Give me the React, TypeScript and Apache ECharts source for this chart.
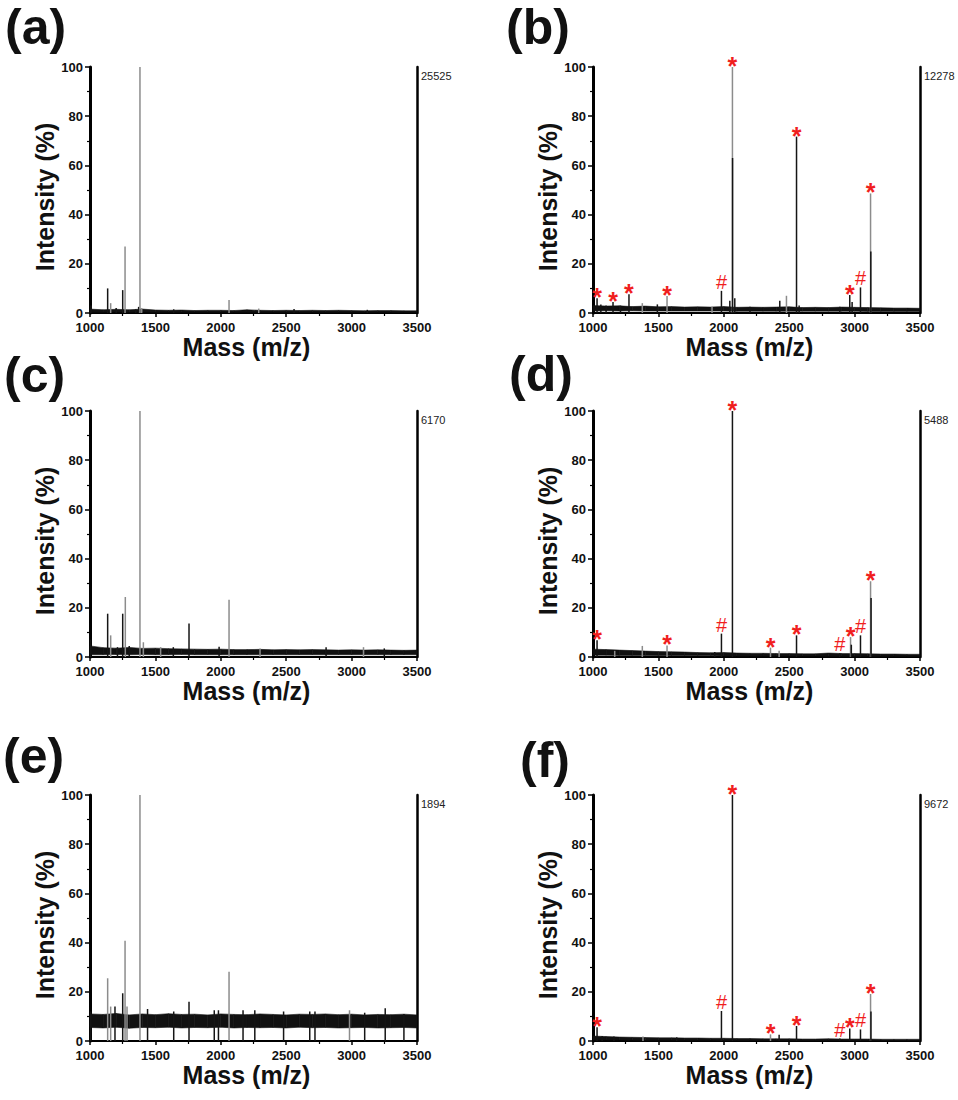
import React, { useEffect, useRef } from "react";
import * as echarts from "echarts";

const FONT = 'Arial, "Liberation Sans", Helvetica, sans-serif';

// ---------- data ----------
const PANEL_LABELS = ["(a)", "(b)", "(c)", "(d)", "(e)", "(f)"];
const COUNTS = ["25525", "12278", "6170", "5488", "1894", "9672"];
const X_MIN = 1000;
const X_MAX = 3500;
const X_STEP = 500;
const Y_MIN = 0;
const Y_MAX = 100;
const Y_STEP = 20;
const X_TITLE = "Mass (m/z)";
const Y_TITLE = "Intensity (%)";

// baseline noise envelope (m/z grid, lower / upper %)
const BAND_MZ = [1000, 1100, 1200, 1300, 1400, 1500, 1600, 1700, 1800, 1900, 2000, 2100, 2200, 2300, 2400, 2500, 2600, 2700, 2800, 2900, 3000, 3100, 3200, 3300, 3400, 3500];
const A_LO = [0.3, 0.3, 0.4, 0.3, 0.4, 0.3, 0.3, 0.3, 0.3, 0.3, 0.3, 0.3, 0.3, 0.3, 0.3, 0.3, 0.3, 0.3, 0.3, 0.3, 0.3, 0.3, 0.3, 0.3, 0.3, 0.3];
const A_HI = [1.6, 1.3, 1.5, 1.3, 1.6, 1.2, 1.1, 1.2, 1.0, 1.1, 1.1, 1.0, 1.3, 1.1, 1.0, 1.1, 1.0, 1.1, 1.0, 1.1, 1.0, 0.9, 1.0, 1.0, 0.9, 0.9];
const B_LO = [0.8, 0.9, 0.8, 0.9, 0.8, 0.8, 0.8, 0.8, 0.8, 0.8, 0.8, 0.7, 0.7, 0.7, 0.7, 0.7, 0.7, 0.7, 0.7, 0.7, 0.7, 0.6, 0.6, 0.6, 0.6, 0.6];
const B_HI = [3.0, 2.8, 2.9, 2.6, 2.8, 2.5, 2.6, 2.4, 2.5, 2.4, 2.6, 2.3, 2.4, 2.3, 2.4, 2.5, 2.2, 2.3, 2.2, 2.4, 2.3, 2.2, 2.1, 2.0, 2.0, 1.9];
const C_LO = [0.9, 0.9, 1.0, 0.9, 1.0, 0.9, 0.9, 1.0, 0.9, 0.9, 0.9, 0.9, 0.9, 0.9, 0.9, 0.9, 0.9, 0.9, 0.9, 0.9, 0.9, 0.9, 0.9, 0.9, 0.9, 0.9];
const C_HI = [4.5, 3.8, 3.6, 3.9, 3.5, 3.6, 3.4, 3.3, 3.2, 3.1, 3.2, 3.0, 3.0, 3.1, 2.9, 3.0, 2.9, 3.0, 2.9, 2.8, 2.9, 2.8, 2.9, 2.8, 2.7, 2.8];
const D_LO = [0.7, 0.7, 0.6, 0.6, 0.6, 0.5, 0.5, 0.5, 0.5, 0.5, 0.4, 0.4, 0.4, 0.4, 0.4, 0.4, 0.4, 0.4, 0.3, 0.3, 0.3, 0.3, 0.3, 0.3, 0.3, 0.3];
const D_HI = [3.2, 3.0, 2.8, 2.6, 2.4, 2.2, 2.1, 2.0, 1.8, 1.7, 1.8, 1.6, 1.5, 1.5, 1.4, 1.4, 1.3, 1.3, 1.6, 1.4, 1.4, 1.3, 1.2, 1.2, 1.1, 1.1];
const E_LO = [5.5, 5.3, 5.6, 5.2, 5.5, 5.4, 5.6, 5.3, 5.5, 5.4, 5.6, 5.3, 5.5, 5.4, 5.5, 5.3, 5.6, 5.4, 5.5, 5.3, 5.4, 5.5, 5.3, 5.4, 5.5, 5.3];
const E_HI = [11.0, 10.8, 11.2, 10.6, 11.0, 10.7, 11.1, 10.8, 10.9, 10.6, 11.0, 10.8, 10.7, 11.0, 10.8, 10.6, 10.9, 10.8, 11.0, 10.7, 10.9, 10.6, 10.8, 10.7, 10.9, 10.6];
const F_LO = [0.4, 0.4, 0.4, 0.3, 0.3, 0.3, 0.3, 0.3, 0.3, 0.3, 0.2, 0.2, 0.2, 0.2, 0.2, 0.2, 0.2, 0.2, 0.2, 0.2, 0.2, 0.2, 0.2, 0.2, 0.2, 0.2];
const F_HI = [2.0, 1.8, 1.6, 1.5, 1.4, 1.3, 1.3, 1.2, 1.2, 1.1, 1.1, 1.0, 1.0, 0.9, 0.9, 0.9, 0.8, 0.8, 0.9, 0.8, 0.8, 0.8, 0.7, 0.7, 0.7, 0.7];

// peaks: [m/z, intensity %, tone (1 = black trace, 0 = grey trace)]
const PEAKS_A = [[1008, 3, 1], [1135, 10, 1], [1158, 4, 0], [1200, 2, 1], [1250, 9.3, 1], [1268, 27, 0], [1350, 1.5, 1], [1372, 2.5, 1], [1382, 100, 0], [1395, 2, 0], [1640, 1.5, 1], [2063, 5.3, 0], [2290, 1.8, 0], [2560, 1.6, 1], [3120, 1.3, 1]];
const PEAKS_B = [[1031, 6, 1], [1060, 3.5, 1], [1100, 3, 1], [1153, 4.5, 1], [1210, 3, 1], [1275, 7.6, 1], [1377, 4, 0], [1492, 3.5, 1], [1566, 6.9, 0], [1910, 2.5, 0], [1982, 9, 1], [2046, 5, 1], [2066, 100, 0], [2067, 63, 1], [2084, 6, 1], [2200, 2.5, 1], [2428, 5, 1], [2479, 7, 0], [2556, 71.7, 1], [2576, 3, 1], [2887, 2.5, 1], [2963, 7.3, 1], [2981, 4.5, 1], [3045, 10.4, 1], [3122, 48.6, 0], [3124, 25, 1]];
const PEAKS_C = [[1005, 7, 1], [1135, 17.6, 1], [1158, 8.8, 0], [1210, 4, 1], [1250, 17.6, 1], [1270, 24.4, 0], [1300, 4.5, 1], [1382, 100, 0], [1408, 6, 0], [1540, 4, 0], [1637, 4, 1], [1757, 13.6, 1], [1987, 4.2, 1], [2063, 23.3, 0], [2300, 3.5, 0], [2805, 4, 1], [3091, 4, 0], [3250, 3.5, 1]];
const PEAKS_D = [[1031, 6.8, 1], [1166, 2.5, 0], [1377, 4.5, 0], [1566, 4.7, 0], [1931, 2, 1], [1982, 9.5, 1], [2066, 100, 1], [2357, 3.8, 0], [2423, 2.5, 0], [2556, 8.8, 1], [2887, 1.5, 1], [2969, 8.1, 0], [2975, 5, 1], [3045, 8.8, 1], [3122, 30.8, 0], [3126, 24, 1]];
const PEAKS_E = [[1005, 12, 1], [1135, 25.5, 0], [1158, 14, 0], [1191, 14, 1], [1250, 19.4, 1], [1268, 40.8, 0], [1283, 14, 0], [1382, 100, 0], [1440, 13, 1], [1640, 12, 1], [1757, 16, 1], [1950, 12.5, 1], [1982, 12.5, 1], [2063, 28.2, 0], [2170, 12.5, 1], [2260, 12.5, 1], [2480, 12, 1], [2680, 12, 1], [2720, 12, 1], [2984, 12.5, 0], [3100, 11.5, 1], [3257, 13.3, 1], [3400, 11, 1]];
const PEAKS_F = [[1031, 5.6, 1], [1070, 2, 1], [1160, 1.8, 1], [1382, 1.8, 0], [1640, 1.5, 1], [1982, 12.2, 1], [2066, 100, 1], [2357, 2.7, 0], [2423, 2.5, 1], [2556, 6.1, 1], [2887, 1, 1], [2963, 5.1, 1], [3045, 4.7, 1], [3122, 19.1, 0], [3125, 12, 1]];

// annotation marks: [m/z, peak intensity %, symbol]
const MARKS_A: [number, number, string][] = [];
const MARKS_B: [number, number, string][] = [[1031, 6, "*"], [1153, 4.5, "*"], [1275, 7.6, "*"], [1566, 6.9, "*"], [1982, 9, "#"], [2066, 100, "*"], [2556, 71.7, "*"], [2963, 7.3, "*"], [3045, 10.4, "#"], [3122, 48.6, "*"]];
const MARKS_C: [number, number, string][] = [];
const MARKS_D: [number, number, string][] = [[1031, 6.8, "*"], [1566, 4.7, "*"], [1982, 9.5, "#"], [2066, 100, "*"], [2357, 3.8, "*"], [2556, 8.8, "*"], [2887, 1.5, "#"], [2969, 8.1, "*"], [3045, 8.8, "#"], [3122, 30.8, "*"]];
const MARKS_E: [number, number, string][] = [];
const MARKS_F: [number, number, string][] = [[1031, 5.6, "*"], [1982, 12.2, "#"], [2066, 100, "*"], [2357, 2.7, "*"], [2556, 6.1, "*"], [2887, 1, "#"], [2963, 5.1, "*"], [3045, 4.7, "#"], [3122, 19.1, "*"]];

const PANELS = [
  { lo: A_LO, hi: A_HI, peaks: PEAKS_A, marks: MARKS_A },
  { lo: B_LO, hi: B_HI, peaks: PEAKS_B, marks: MARKS_B },
  { lo: C_LO, hi: C_HI, peaks: PEAKS_C, marks: MARKS_C },
  { lo: D_LO, hi: D_HI, peaks: PEAKS_D, marks: MARKS_D },
  { lo: E_LO, hi: E_HI, peaks: PEAKS_E, marks: MARKS_E },
  { lo: F_LO, hi: F_HI, peaks: PEAKS_F, marks: MARKS_F },
];

// ---------- layout ----------
const GRIDS = [
  { left: 90, top: 67 },
  { left: 593, top: 67 },
  { left: 90, top: 411 },
  { left: 593, top: 411 },
  { left: 90, top: 795 },
  { left: 593, top: 795 },
];
const GRID_W = 327;
const GRID_H = 246;
const LABEL_POS = [
  { x: 5, y: 27 },
  { x: 506, y: 27 },
  { x: 4, y: 375 },
  { x: 509, y: 374 },
  { x: 3, y: 756 },
  { x: 520, y: 760 },
];

function buildOption() {
  const grid: any[] = [];
  const xAxis: any[] = [];
  const yAxis: any[] = [];
  const series: any[] = [];
  const graphic: any[] = [];

  PANELS.forEach((p, i) => {
    grid.push({ left: GRIDS[i].left, top: GRIDS[i].top, width: GRID_W, height: GRID_H, containLabel: false });
    xAxis.push({
      gridIndex: i,
      type: "value",
      min: X_MIN,
      max: X_MAX,
      interval: X_STEP,
      name: X_TITLE,
      nameLocation: "middle",
      nameGap: 20,
      nameTextStyle: { fontFamily: FONT, fontWeight: "bold", fontSize: 25, color: "#111", padding: [0, 14, 0, 0] },
      axisLine: { show: true, onZero: false, lineStyle: { color: "#000", width: 2.2 } },
      axisTick: { show: true, length: 4, lineStyle: { color: "#000", width: 1.5 } },
      minorTick: { show: true, splitNumber: 2, length: 3, lineStyle: { color: "#000", width: 1.2 } },
      axisLabel: { fontFamily: FONT, fontWeight: "bold", fontSize: 13, color: "#111", margin: 8, formatter: (v: number) => String(v) },
      splitLine: { show: false },
    });
    yAxis.push({
      gridIndex: i,
      type: "value",
      min: Y_MIN,
      max: Y_MAX,
      interval: Y_STEP,
      name: Y_TITLE,
      nameLocation: "middle",
      nameGap: 31,
      nameTextStyle: { fontFamily: FONT, fontWeight: "bold", fontSize: 25, color: "#111", padding: [0, 14, 0, 0] },
      axisLine: { show: true, onZero: false, lineStyle: { color: "#000", width: 3 } },
      axisTick: { show: true, length: 5, lineStyle: { color: "#000", width: 1.5 } },
      minorTick: { show: true, splitNumber: 2, length: 3, lineStyle: { color: "#000", width: 1.2 } },
      axisLabel: { fontFamily: FONT, fontWeight: "bold", fontSize: 13, color: "#111", margin: 7, formatter: (v: number) => String(v) },
      splitLine: { show: false },
    });
    yAxis.push({
      gridIndex: i,
      type: "value",
      position: "right",
      min: Y_MIN,
      max: Y_MAX,
      axisLine: { show: true, onZero: false, lineStyle: { color: "#000", width: 2.5 } },
      axisTick: { show: false },
      axisLabel: { show: false },
      splitLine: { show: false },
    });

    const xi = i;
    const yi = 2 * i;

    // noise band
    const bandData: number[][] = [];
    for (let k = 0; k < BAND_MZ.length - 1; k++) {
      bandData.push([BAND_MZ[k], BAND_MZ[k + 1], p.lo[k], p.hi[k], p.lo[k + 1], p.hi[k + 1]]);
    }
    series.push({
      type: "custom",
      xAxisIndex: xi,
      yAxisIndex: yi,
      silent: true,
      data: bandData,
      encode: { x: [0, 1], y: [2, 3, 4, 5] },
      renderItem: (params: any, api: any) => {
        const a = api.coord([api.value(0), api.value(2)]);
        const b = api.coord([api.value(1), api.value(4)]);
        const c = api.coord([api.value(1), api.value(5)]);
        const d = api.coord([api.value(0), api.value(3)]);
        return {
          type: "polygon",
          shape: { points: [a, b, c, d] },
          style: { fill: "#111", stroke: "#111", lineWidth: 0.6 },
        };
      },
    });

    // peaks
    series.push({
      type: "custom",
      xAxisIndex: xi,
      yAxisIndex: yi,
      silent: true,
      data: p.peaks,
      encode: { x: 0, y: 1 },
      renderItem: (params: any, api: any) => {
        const b = api.coord([api.value(0), 0]);
        const t = api.coord([api.value(0), api.value(1)]);
        const tone = api.value(2);
        return {
          type: "line",
          shape: { x1: b[0], y1: b[1], x2: t[0], y2: t[1] },
          style: { stroke: tone ? "#151515" : "#8c8c8c", lineWidth: 1.5 },
        };
      },
    });

    // annotation marks
    if (p.marks.length) {
      const marks = p.marks;
      series.push({
        type: "custom",
        xAxisIndex: xi,
        yAxisIndex: yi,
        silent: true,
        data: marks.map((m) => [m[0], m[1]]),
        encode: { x: 0, y: 1 },
        renderItem: (params: any, api: any) => {
          const m = marks[params.dataIndex];
          const pt = api.coord([m[0], m[1]]);
          const star = m[2] === "*";
          return {
            type: "text",
            x: pt[0],
            y: pt[1] - (star ? 1 : 9),
            style: {
              text: m[2],
              fill: "#f01e1e",
              font: star ? `bold 25px ${FONT}` : `20px ${FONT}`,
              align: "center",
              verticalAlign: "middle",
            },
          };
        },
      });
    }

    // total count label beside the right-hand axis
    const count = COUNTS[i];
    series.push({
      type: "custom",
      xAxisIndex: xi,
      yAxisIndex: yi,
      silent: true,
      data: [[X_MAX, Y_MAX]],
      renderItem: (params: any, api: any) => {
        const pt = api.coord([api.value(0), api.value(1)]);
        return {
          type: "text",
          x: pt[0] + 4,
          y: pt[1] + 9,
          style: { text: count, fill: "#222", font: `11px ${FONT}`, align: "left", verticalAlign: "middle" },
        };
      },
    });

    graphic.push({
      type: "text",
      x: LABEL_POS[i].x,
      y: LABEL_POS[i].y,
      style: { text: PANEL_LABELS[i], font: `bold 50px ${FONT}`, fill: "#111", verticalAlign: "middle" },
    });
  });

  return { animation: false, backgroundColor: "#fff", grid, xAxis, yAxis, series, graphic };
}

export default function App() {
  const ref = useRef<HTMLDivElement>(null);
  useEffect(() => {
    document.body.style.margin = "0";
    const chart = echarts.init(ref.current!, undefined, { renderer: "svg" });
    chart.setOption(buildOption() as any);
    return () => chart.dispose();
  }, []);
  return <div ref={ref} style={{ width: 958, height: 1100 }} />;
}
